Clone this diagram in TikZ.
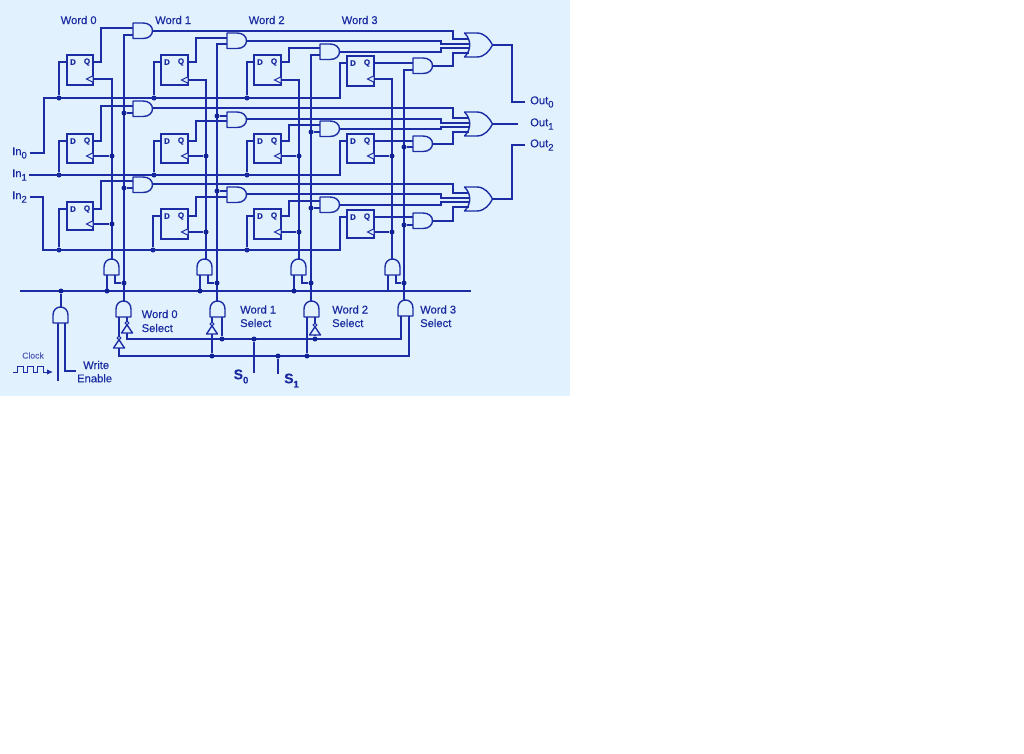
\documentclass[tikz,border=0pt]{standalone}
\usepackage{fontspec}
\setmainfont{Liberation Sans}[FakeBold=0.25]
\usetikzlibrary{arrows.meta}
\definecolor{panelbg}{RGB}{225,242,254}
\definecolor{wirec}{RGB}{28,44,165}
\definecolor{dotc}{RGB}{16,34,150}
\definecolor{textc}{RGB}{26,42,160}
\tikzset{
  wire/.style={draw=wirec,line width=1.4pt,line join=miter},
  fatwire/.style={draw=wirec,line width=1.9pt},
  gateline/.style={draw=wirec,line width=1.4pt,line join=round},
  jdot/.style={circle,fill=dotc,draw=none,minimum size=5pt,inner sep=0pt},
  ffbox/.style={draw=wirec,line width=1.5pt,inner sep=0pt,outer sep=0pt,anchor=north west},
  fflabel/.style={text=textc,inner sep=0pt,font=\fontsize{8}{8}\selectfont\bfseries},
  lbl/.style={text=textc,inner sep=0pt,font=\fontsize{11.2}{12}\selectfont},
  ghost/.style={inner sep=0pt,outer sep=0pt}
}
\newcommand{\subd}[1]{\raisebox{-0.3em}{\fontsize{9.5}{9.5}\selectfont #1}}
% flip-flop: name, x, ytop, width, height, clock y
\newcommand{\ffblock}[6]{%
  \node[ffbox,minimum width=#4pt,minimum height=#5pt] (#1) at (#2,#3) {};
  \node[fflabel] (#1dl) at ({#2+6},{#3+7}) {D};
  \node[fflabel] (#1ql) at ({#2+20},{#3+7}) {Q};
  \coordinate (#1D) at (#2,{#3+7});
  \coordinate (#1Q) at ({#2+#4},{#3+7});
  \coordinate (#1C) at ({#2+#4},#6);
  \path[draw=wirec,line width=1pt,fill=panelbg] ({#2+#4},{#6-3.2}) -- ({#2+#4-6.5},#6) -- ({#2+#4},{#6+3.2}) -- cycle;
}
% horizontal AND: name, x, ytop, upper input, lower input, output (offsets from ytop)
\newcommand{\andh}[6]{%
  \node[ghost,minimum width=19.5pt,minimum height=15.5pt,anchor=north west] (#1) at (#2,#3) {};
  \path[gateline] (#2,#3) -- ({#2+10},#3) .. controls ({#2+16},#3) and ({#2+19.5},{#3+3.5}) .. ({#2+19.5},{#3+7.75})
     .. controls ({#2+19.5},{#3+12}) and ({#2+16},{#3+15.5}) .. ({#2+10},{#3+15.5}) -- (#2,{#3+15.5}) -- cycle;
  \coordinate (#1-t) at (#2,{#3+#4});
  \coordinate (#1-b) at (#2,{#3+#5});
  \coordinate (#1-o) at ({#2+19.5},{#3+#6});
}
% upward AND: name, centre x, ytop, output x, left input x, right input x
\newcommand{\andv}[6]{%
  \node[ghost,minimum width=15pt,minimum height=16pt,anchor=north] (#1) at (#2,#3) {};
  \path[gateline] ({#2-7.5},{#3+16}) -- ({#2+7.5},{#3+16}) -- ({#2+7.5},{#3+8})
     .. controls ({#2+7.5},{#3+3}) and ({#2+4},#3) .. (#2,#3)
     .. controls ({#2-4},#3) and ({#2-7.5},{#3+3}) .. ({#2-7.5},{#3+8}) -- cycle;
  \coordinate (#1-o) at (#4,#3);
  \coordinate (#1-l) at (#5,{#3+16});
  \coordinate (#1-r) at (#6,{#3+16});
}
% OR: name, centre y
\newcommand{\orgate}[2]{%
  \node[ghost,minimum width=28pt,minimum height=24pt,anchor=west] (#1) at (465,#2) {};
  \path[gateline] (464.5,{#2-12}) -- (477,{#2-12}) .. controls (485,{#2-12}) and (490,{#2-5}) .. (492.5,#2)
     .. controls (490,{#2+5}) and (485,{#2+12}) .. (477,{#2+12}) -- (464.5,{#2+12})
     .. controls (471.5,{#2+5}) and (471.5,{#2-5}) .. cycle;
  \coordinate (#1-o) at (492.5,#2);
  \coordinate (#1-j1) at (453,{#2-6});  \coordinate (#1-1) at (468.5,{#2-6});
  \coordinate (#1-j2) at (441,{#2-1});  \coordinate (#1-2) at (470,{#2-1});
  \coordinate (#1-j3) at (441,{#2+3});  \coordinate (#1-3) at (470,{#2+3});
  \coordinate (#1-j4) at (453,{#2+8});  \coordinate (#1-4) at (468.5,{#2+8});
}
% inverter: name, x, y of bubble
\newcommand{\invert}[3]{%
  \node[ghost,circle,draw=wirec,line width=1.1pt,minimum size=3.6pt,fill=panelbg] (#1) at (#2,#3) {};
  \path[gateline] (#2,{#3+1.8}) -- ({#2-5.5},{#3+10}) -- ({#2+5.5},{#3+10}) -- cycle;
  \coordinate (#1-o) at (#2,{#3+10});
}
\begin{document}
\begin{tikzpicture}[x=1pt,y=-1pt]
\useasboundingbox (0,0) rectangle (1024,753);
\fill[white] (0,0) rectangle (1024,753);
\fill[panelbg] (0,0) rectangle (570,396);

% flip-flops
\ffblock{F00}{67}{55}{26}{30}{79}
\ffblock{F10}{161}{55}{27}{30}{80}
\ffblock{F20}{254}{55}{27}{30}{80}
\ffblock{F30}{347}{56}{27}{30}{79}
\ffblock{F01}{67}{134}{26}{29}{156}
\ffblock{F11}{161}{134}{27}{29}{156}
\ffblock{F21}{254}{134}{27}{29}{156}
\ffblock{F31}{347}{134}{27}{29}{156}
\ffblock{F02}{67}{202}{26}{28}{224}
\ffblock{F12}{161}{209}{27}{30}{232}
\ffblock{F22}{254}{209}{27}{30}{232}
\ffblock{F32}{347}{210}{27}{28}{232}

% AND gates
\andh{A00}{133}{23}{5}{12}{8}
\andh{A01}{133}{101}{5}{12}{7}
\andh{A02}{133}{177}{4}{11}{7}
\andh{A10}{227}{33}{5}{11}{8}
\andh{A11}{227}{112}{4}{9}{7}
\andh{A12}{227}{187}{4}{10}{7}
\andh{A20}{320}{44}{4}{11}{8}
\andh{A21}{320}{121}{4}{11}{8}
\andh{A22}{320}{197}{4}{11}{8}
\andh{A30}{413}{58}{5}{12}{8}
\andh{A31}{413}{136}{5}{11}{8}
\andh{A32}{413}{213}{4}{12}{8}

% clock gating ANDs and select ANDs
\andv{K0}{111.5}{259}{112}{107}{115}
\andv{K1}{204.5}{259}{206}{200}{208}
\andv{K2}{298.5}{259}{299}{294}{302}
\andv{K3}{392.5}{259}{392}{388}{396}
\andv{S0}{123.5}{301}{124}{119}{127}
\andv{S1}{217.5}{301}{217}{212}{222}
\andv{S2}{311.5}{301}{311}{307}{315}
\andv{S3}{405.5}{300}{404}{401}{409}
\andv{W}{60.5}{307}{61}{58}{65}

% OR gates
\orgate{OR0}{45}
\orgate{OR1}{124}
\orgate{OR2}{199}

% labels
\node[lbl,anchor=west] (w0) at (60.5,20) {Word 0};
\node[lbl,anchor=west] (w1) at (155,20) {Word 1};
\node[lbl,anchor=west] (w2) at (248.5,20) {Word 2};
\node[lbl,anchor=west] (w3) at (341.5,20) {Word 3};
\node[lbl,anchor=east,inner xsep=3pt] (in0) at (30,153) {In\subd{0}};
\node[lbl,anchor=east,inner xsep=2pt] (in1) at (29,175) {In\subd{1}};
\node[lbl,anchor=east,inner xsep=3pt] (in2) at (30,197) {In\subd{2}};
\node[lbl,anchor=west,inner xsep=5pt] (o0) at (525,102) {Out\subd{0}};
\node[lbl,anchor=west,inner xsep=12pt] (o1) at (518,124) {Out\subd{1}};
\node[lbl,anchor=west,inner xsep=5pt] (o2) at (525,145) {Out\subd{2}};
\node[lbl,anchor=west] (ws0) at (141.5,314) {Word 0};
\node[lbl,anchor=west] (ss0) at (141.5,328) {Select};
\node[lbl,anchor=west] (ws1) at (240,309.5) {Word 1};
\node[lbl,anchor=west] (ss1) at (240,323) {Select};
\node[lbl,anchor=west] (ws2) at (332,309.5) {Word 2};
\node[lbl,anchor=west] (ss2) at (332,323) {Select};
\node[lbl,anchor=west] (ws3) at (420,309.5) {Word 3};
\node[lbl,anchor=west] (ss3) at (420,323) {Select};
\node[lbl,anchor=west] (we1) at (83,365) {Write};
\node[lbl,anchor=west,inner xsep=1pt] (we2) at (76,378.3) {Enable};
\node[lbl,text=textc!75,font=\fontsize{8.6}{10}\selectfont] (clk) at (33,355.5) {Clock};
\node[lbl,font=\fontsize{14}{16}\selectfont\bfseries] (s0l) at (241,376.5) {S\subd{\textbf{0}}};
\node[lbl,font=\fontsize{14}{16}\selectfont\bfseries] (s1l) at (291.5,380.5) {S\subd{\textbf{1}}};

% data inputs
\node[jdot] (d00) at (59,98) {};
\node[jdot] (d10) at (154,98) {};
\node[jdot] (d20) at (247,98) {};
\node[jdot] (d01) at (59,175) {};
\node[jdot] (d11) at (154,175) {};
\node[jdot] (d21) at (247,175) {};
\node[jdot] (d02) at (59,250) {};
\node[jdot] (d12) at (153,250) {};
\node[jdot] (d22) at (247,250) {};
\coordinate (in0a) at (44,98);
\coordinate (in0b) at (340,98);
\coordinate (in1b) at (340,175);
\coordinate (in2a) at (43,250);
\coordinate (in2b) at (340,250);
\coordinate (fat0) at (204,98);
\coordinate (fat1) at (261,98);
\draw[wire] (in0.east) -| (in0a) -- (in0b) |- (F30D);
\draw[fatwire] (fat0) -- (fat1);
\draw[wire] (in1.east) -- (in1b) |- (F31D);
\draw[wire] (in2.east) -| (in2a) -- (in2b) |- (F32D);
\foreach \a/\b in {d00/F00D,d10/F10D,d20/F20D,d01/F01D,d11/F11D,d21/F21D,d02/F02D,d12/F12D,d22/F22D}
  \draw[wire] (\a) |- (\b);

% enable verticals
\foreach \g/\s in {A00/S0,A10/S1,A20/S2,A30/S3}
  \draw[wire] (\g-b) -| (\s-o);
\foreach \g/\s/\n/\p in {A01/S0/e01/b,A02/S0/e02/b,A11/S1/e11/t,A12/S1/e12/t,A21/S2/e21/b,A22/S2/e22/b,A31/S3/e31/b,A32/S3/e32/b}{
  \node[jdot] (\n) at (\g-\p -| \s-o) {};
  \draw[wire] (\n) -- (\g-\p);
}

% clock verticals
\foreach \f/\k in {F00/K0,F10/K1,F20/K2,F30/K3}
  \draw[wire] (\f C) -| (\k-o);
\foreach \f/\k/\n in {F01/K0/c01,F02/K0/c02,F11/K1/c11,F12/K1/c12,F21/K2/c21,F22/K2/c22,F31/K3/c31,F32/K3/c32}{
  \node[jdot] (\n) at (\f C -| \k-o) {};
  \draw[wire] (\f C) -- (\n);
}

% Q to AND
\foreach \f/\g/\p in {F00/A00/t,F01/A01/t,F02/A02/t,F10/A10/t,F11/A11/b,F12/A12/b,F20/A20/t,F21/A21/t,F22/A22/t}
  \draw[wire] (\f Q) -- ++(8,0) |- (\g-\p);
\draw[wire] (F30Q) -- (A30-t);
\draw[wire] (F31Q) -- (A31-t);
\draw[wire] (F32Q) -- (A32-t);

% AND to OR
\draw[fatwire] (A00-o) -| (OR0-j1) -- (OR0-1);
\draw[wire] (A10-o) -| (OR0-j2) -- (OR0-2);
\draw[wire] (A20-o) -| (OR0-j3) -- (OR0-3);
\draw[wire] (A30-o) -| (OR0-j4) -- (OR0-4);
\draw[wire] (A01-o) -| (OR1-j1) -- (OR1-1);
\draw[wire] (A11-o) -| (OR1-j2) -- (OR1-2);
\draw[wire] (A21-o) -| (OR1-j3) -- (OR1-3);
\draw[wire] (A31-o) -| (OR1-j4) -- (OR1-4);
\draw[fatwire] (A02-o) -| (OR2-j1) -- (OR2-1);
\draw[wire] (A12-o) -| (OR2-j2) -- (OR2-2);
\draw[wire] (A22-o) -| (OR2-j3) -- (OR2-3);
\draw[wire] (A32-o) -| (OR2-j4) -- (OR2-4);

% outputs
\coordinate (oc0) at (512,102);
\coordinate (oc2) at (512,145);
\draw[wire] (OR0-o) -| (oc0) -- (o0.west);
\draw[wire] (OR1-o) -- (o1.west);
\draw[wire] (OR2-o) -| (oc2) -- (o2.west);

% enable bus
\coordinate (busL) at (20,291);
\coordinate (busR) at (471,291);
\draw[wire] (busL) -- (busR);
\foreach \k in {K0,K1,K2,K3}
  \draw[wire] (\k-l) -- (\k-l |- busL);
\foreach \k in {K0,K1,K2}
  \node[jdot] at (\k-l |- busL) {};
\foreach \k/\s/\n in {K0/S0/g0,K1/S1/g1,K2/S2/g2,K3/S3/g3}{
  \coordinate (\n a) at (\k-r |- 0,283);
  \node[jdot] (\n) at (\s-o |- \n a) {};
  \draw[wire] (\k-r) -- (\n a) -- (\n);
}

% write enable
\node[jdot] (wb) at (W-o |- busL) {};
\draw[wire] (W-o) -- (wb);
\coordinate (wl) at (58,381);
\coordinate (wr) at (65,371);
\draw[wire] (W-l) -- (wl);
\draw[wire] (W-r) -- (wr) -- (we2.north west |- wr);

% clock waveform
\coordinate (wave) at (13,372);
\draw[draw=wirec,line width=1pt,-{Latex[length=6pt,width=5.5pt]}]
  (wave) -- (17,372) -- (17,366) -- (23,366) -- (23,372) -- (27,372) -- (27,366)
  -- (33,366) -- (33,372) -- (37,372) -- (37,366) -- (43,366) -- (43,372) -- (53,372);

% select inverters and lines
\invert{I0l}{119}{338}
\invert{I0r}{127}{323}
\invert{I1}{212}{324}
\invert{I2}{315}{325}
\draw[wire] (S0-l) -- (I0l);
\draw[wire] (S0-r) -- (I0r);
\draw[wire] (S1-l) -- (I1);
\draw[wire] (S2-r) -- (I2);
\coordinate (s0a) at (127,339);
\coordinate (s0b) at (401,339);
\coordinate (s1a) at (119,356);
\coordinate (s1b) at (409,356);
\draw[wire] (I0r-o) -- (s0a) -- (s0b) -- (S3-l);
\draw[wire] (I0l-o) -- (s1a) -- (s1b) -- (S3-r);
\node[jdot] (p1) at (S1-r |- s0a) {};
\node[jdot] (p2) at (I2-o |- s0a) {};
\node[jdot] (p3) at (254,339) {};
\node[jdot] (q1) at (I1-o |- s1a) {};
\node[jdot] (q2) at (S2-l |- s1a) {};
\node[jdot] (q3) at (278,356) {};
\draw[wire] (S1-r) -- (p1);
\draw[wire] (I2-o) -- (p2);
\draw[wire] (I1-o) -- (q1);
\draw[wire] (S2-l) -- (q2);
\coordinate (s0end) at (254,373);
\coordinate (s1end) at (278,374);
\draw[wire] (p3) -- (s0end);
\draw[wire] (q3) -- (s1end);
\end{tikzpicture}
\end{document}
